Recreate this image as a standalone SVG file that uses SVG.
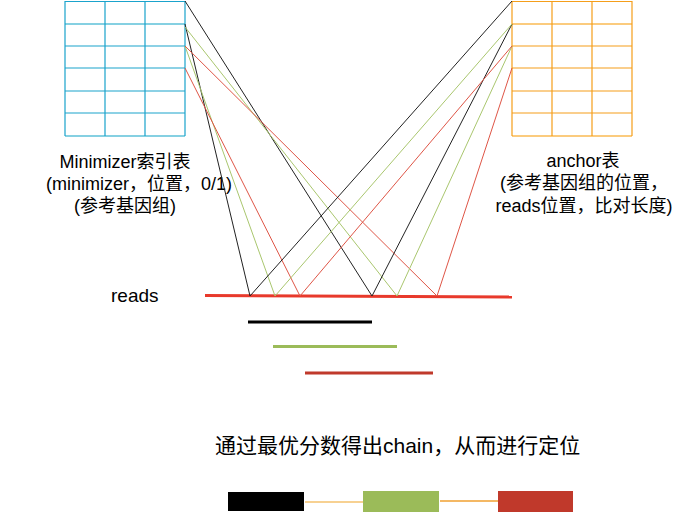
<svg xmlns="http://www.w3.org/2000/svg" width="695" height="514" viewBox="0 0 695 514">
<style>
text{font-family:"Liberation Sans","Noto Sans CJK SC",sans-serif;fill:#000}
.t{font-size:18px;text-anchor:middle}
.gb{stroke:#1AA3CC;stroke-width:1.2;fill:none}
.gbl{stroke:#85D0E2;stroke-width:2;fill:none}
.go{stroke:#F59E1A;stroke-width:1.2;fill:none}
.gol{stroke:#FBCB7E;stroke-width:2;fill:none}
.k{stroke:#222;stroke-width:1}
.g{stroke:#A9C66E;stroke-width:1}
.r{stroke:#DE5546;stroke-width:1}
</style>
<rect width="695" height="514" fill="#fff"/>
<g id="minimizer-table">
<path class="gbl" d="M65 24H185M65 136H185"/>
<path class="gb" d="M65 1.5H185M65 46H185M65 68H185M65 91H185M65 113H185M65 1V136M105 1V136M145 1V136M185 1V136"/>
<text class="t" x="125" y="168">Minimizer索引表</text>
<text class="t" x="139" y="190">(minimizer，位置，0/1)</text>
<text class="t" x="125" y="212">(参考基因组)</text>
</g>
<g id="anchor-table">
<path class="gol" d="M512 24H632M512 136H632"/>
<path class="go" d="M512 1.5H632M512 46H632M512 68H632M512 91H632M512 113H632M512 1V136M552 1V136M592 1V136M632 1V136"/>
<text class="t" x="583" y="167">anchor表</text>
<text class="t" x="584" y="189">(参考基因组的位置，</text>
<text class="t" x="584" y="212">reads位置，比对长度)</text>
</g>
<g id="reads">
<text x="111" y="302" style="font-size:19px">reads</text>
<line x1="205" y1="295.5" x2="512" y2="297" stroke="#E8392B" stroke-width="3"/>
</g>
<g id="alignments">
<line x1="248" y1="322" x2="372" y2="322" stroke="#000" stroke-width="3"/>
<line x1="273" y1="346.5" x2="397" y2="346.5" stroke="#9BBB59" stroke-width="3"/>
<line x1="305" y1="373" x2="433" y2="373" stroke="#C0392B" stroke-width="3"/>
</g>
<g id="connectors">
<line class="k" x1="185" y1="1" x2="372" y2="296"/>
<line class="k" x1="185" y1="24" x2="250" y2="296"/>
<line class="g" x1="185" y1="27" x2="397" y2="296"/>
<line class="g" x1="185" y1="46" x2="275" y2="296"/>
<line class="r" x1="185" y1="46" x2="437" y2="296"/>
<line class="r" x1="185" y1="68" x2="300" y2="296"/>
<line class="k" x1="512" y1="1" x2="250" y2="296"/>
<line class="k" x1="512" y1="24" x2="372" y2="296"/>
<line class="g" x1="512" y1="24" x2="275" y2="296"/>
<line class="g" x1="512" y1="46" x2="397" y2="296"/>
<line class="r" x1="512" y1="46" x2="300" y2="296"/>
<line class="r" x1="512" y1="68" x2="437" y2="296"/>
</g>
<g id="caption">
<text x="215" y="453" style="font-size:21px">通过最优分数得出chain，从而进行定位</text>
</g>
<g id="chain">
<line x1="305" y1="502" x2="363" y2="502" stroke="#F5C26E" stroke-width="1.5"/>
<line x1="440" y1="501" x2="498" y2="501" stroke="#F0A030" stroke-width="1.5"/>
<rect x="228" y="492" width="76" height="19" fill="#000"/>
<rect x="363" y="491" width="76" height="21" fill="#9BBB59"/>
<rect x="498" y="491" width="75" height="21" fill="#C0392B"/>
</g>
</svg>
